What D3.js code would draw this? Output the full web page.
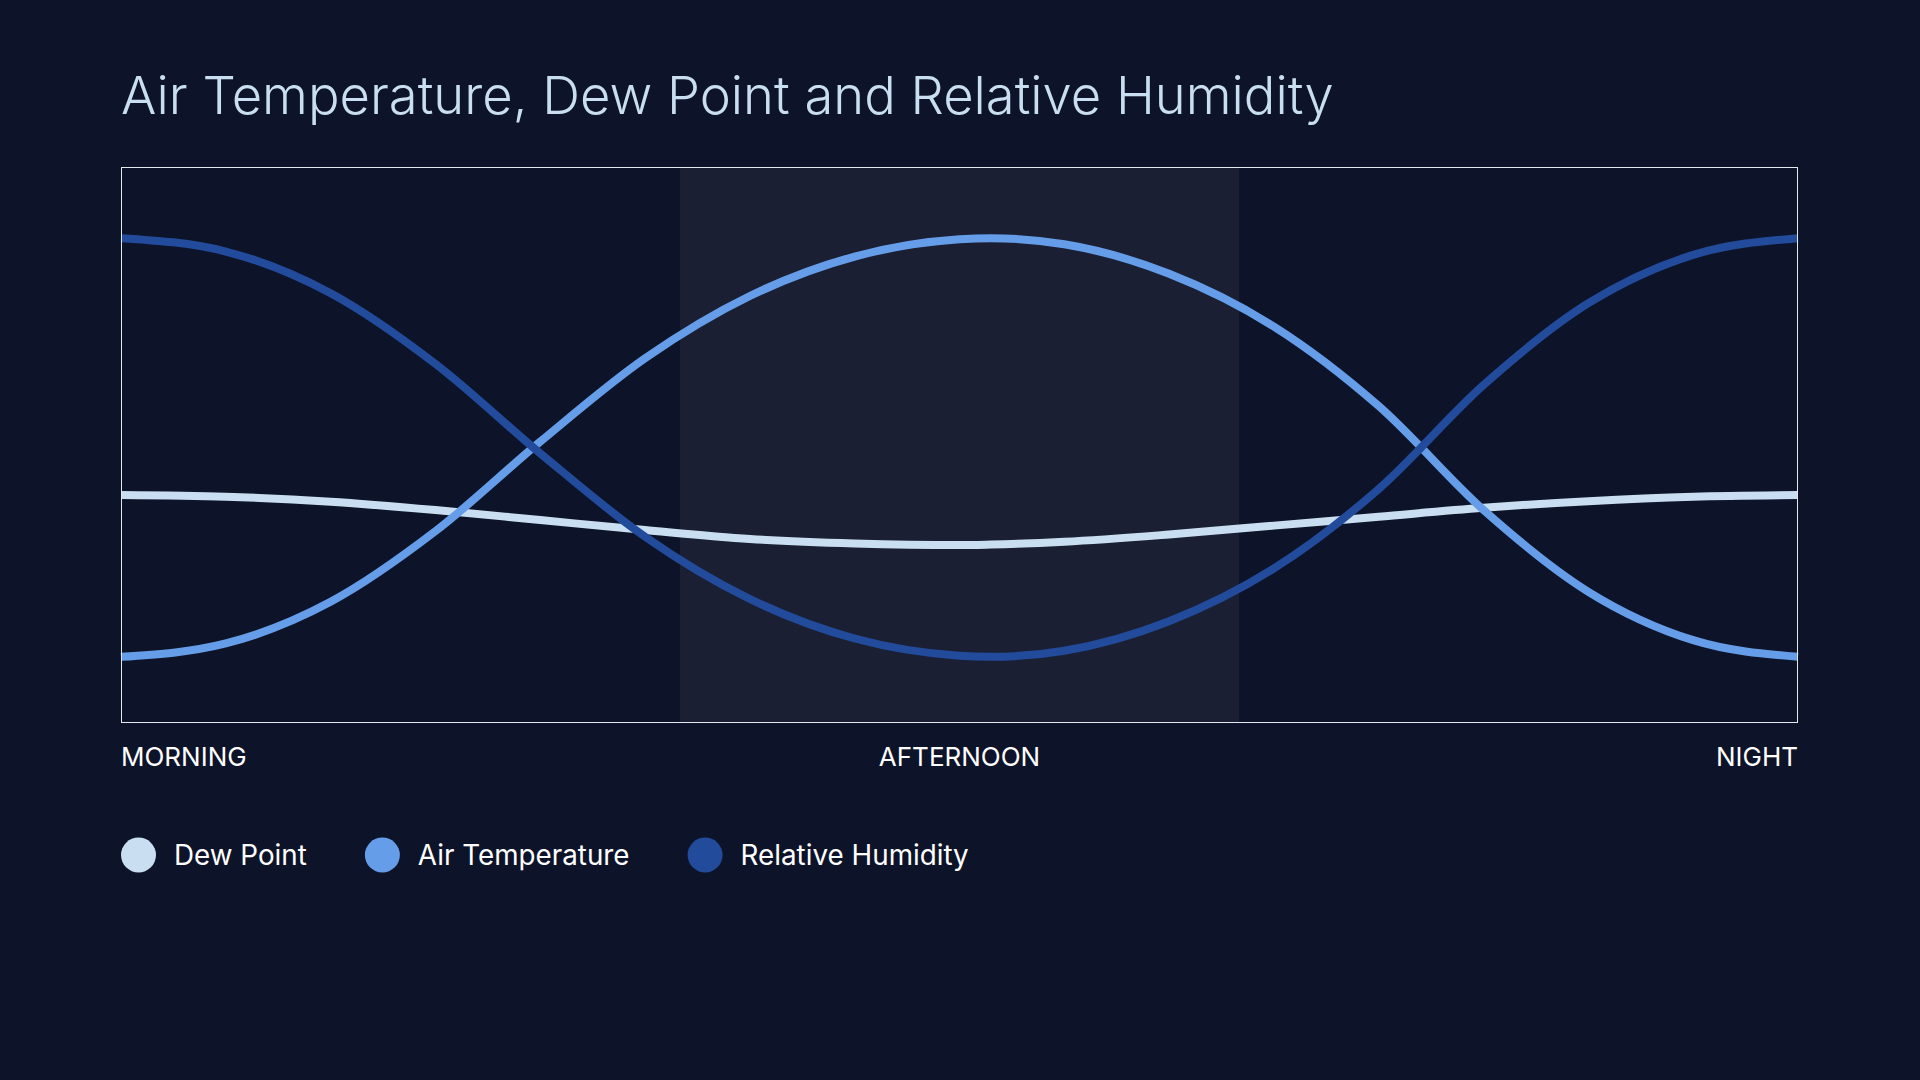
<!DOCTYPE html>
<html>
<head>
<meta charset="utf-8">
<script src="https://cdn.jsdelivr.net/npm/d3@7"></script>
<style>
  body { margin: 0; background: #0d1328; }
  svg { display: block; font-family: Inter, "Noto Sans", sans-serif; }
</style>
</head>
<body>
<script>
//Data (hour of day, values on a 0-100 scale)
const hours = [6, 7, 8, 9, 10, 11, 12, 13, 14, 14.3, 15, 16, 17, 18, 19, 20, 21, 22];
const dewPoint = [41.0, 40.7, 39.8, 38.3, 36.5, 34.7, 33.1, 32.3, 32.0, 32.1, 32.6, 33.9, 35.5, 37.1, 38.7, 39.9, 40.7, 41.0];
const airTemp = [11.9, 14.3, 21.8, 34.5, 50.6, 65.6, 76.8, 83.9, 87.0, 87.2, 86.1, 80.8, 71.3, 57.0, 38.3, 23.6, 14.9, 11.9];
const humidity = [87.2, 84.8, 77.3, 64.6, 48.5, 33.5, 22.3, 15.2, 12.1, 11.9, 13.0, 18.3, 27.8, 42.1, 60.8, 75.5, 84.2, 87.2];
const periods = ["MORNING", "AFTERNOON", "NIGHT"];
const seriesNames = ["Dew Point", "Air Temperature", "Relative Humidity"];
const seriesColors = ["#c9def0", "#669de9", "#224b9b"];

//Layout
const width = 1920;
const height = 1080;
const plotLeft = 121;
const plotRight = 1798;
const plotTop = 167;
const plotBottom = 723;

const svg = d3.select("body")
    .append("svg")
    .attr("width", width)
    .attr("height", height);

svg.append("rect")
    .attr("width", width)
    .attr("height", height)
    .attr("fill", "#0d1328");

//Title
svg.append("text")
    .attr("x", plotLeft)
    .attr("y", 114)
    .attr("fill", "#c9def0")
    .attr("font-size", 52.5)
    .attr("font-weight", 300)
    .text("Air Temperature, Dew Point and Relative Humidity");

//Scales
const xScale = d3.scaleLinear()
    .domain(d3.extent(hours))
    .range([plotLeft, plotRight]);

const yScale = d3.scaleLinear()
    .domain([0, 100])
    .range([plotBottom, plotTop]);

const periodScale = d3.scaleBand()
    .domain(periods)
    .range([plotLeft, plotRight]);

//Afternoon shading
svg.append("rect")
    .attr("x", periodScale("AFTERNOON"))
    .attr("y", plotTop)
    .attr("width", periodScale.bandwidth())
    .attr("height", plotBottom - plotTop)
    .attr("fill", "#1a1f33");

//Lines
const series = [dewPoint, airTemp, humidity];

const line = d3.line()
    .x((d, i) => xScale(hours[i]))
    .y(d => yScale(d))
    .curve(d3.curveMonotoneX);

svg.selectAll(".series")
    .data(series)
    .join("path")
    .attr("class", "series")
    .attr("d", d => line(d))
    .attr("fill", "none")
    .attr("stroke", (d, i) => seriesColors[i])
    .attr("stroke-width", 8);

//Frame
svg.append("rect")
    .attr("x", plotLeft + 0.5)
    .attr("y", plotTop + 0.5)
    .attr("width", plotRight - plotLeft - 1)
    .attr("height", plotBottom - plotTop - 1)
    .attr("fill", "none")
    .attr("stroke", "#e4e8ef")
    .attr("stroke-width", 1);

//Period labels
const anchors = ["start", "middle", "end"];
svg.selectAll(".period")
    .data(periods)
    .join("text")
    .attr("class", "period")
    .attr("x", (d, i) => periodScale(d) + periodScale.bandwidth() * i / 2)
    .attr("y", 766)
    .attr("text-anchor", (d, i) => anchors[i])
    .attr("fill", "#ffffff")
    .attr("font-size", 26)
    .text(d => d);

//Legend
const legend = svg.append("g");
let lx = plotLeft;
seriesNames.forEach((name, i) => {
    const item = legend.append("g").attr("transform", "translate(" + lx + ",855)");
    item.append("circle")
        .attr("cx", 17.5)
        .attr("r", 17.5)
        .attr("fill", seriesColors[i]);
    const t = item.append("text")
        .attr("x", 53)
        .attr("dy", "0.36em")
        .attr("fill", "#ffffff")
        .attr("font-size", 27.8)
        .text(name);
    lx += 53 + t.node().getComputedTextLength() + 58;
});
</script>
</body>
</html>
